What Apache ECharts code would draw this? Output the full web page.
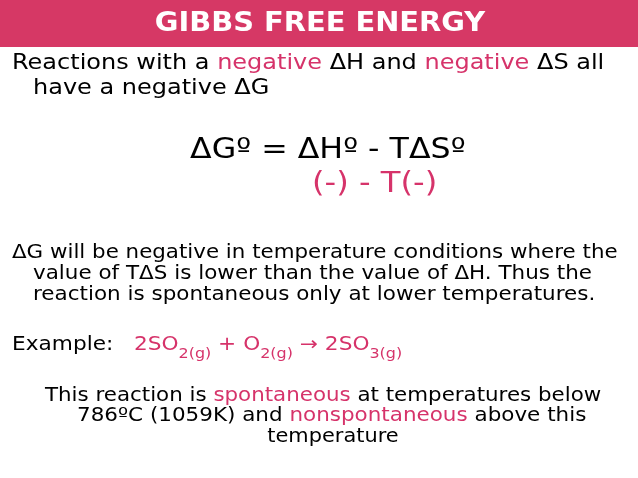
<!DOCTYPE html>
<html><head><meta charset="utf-8">
<script src="https://cdn.jsdelivr.net/npm/echarts@6/dist/echarts.min.js"></script>
<style>html,body{margin:0;padding:0;background:#fff}#c{width:638px;height:478px}</style>
</head><body><div id="c"></div>
<script>
var title = "GIBBS FREE ENERGY";
// segments: [text, style key]  k = black, p = pink, ps = pink subscript
var introLines = [
  [["Reactions with a ", "k"], ["negative", "p"], [" ΔH and ", "k"], ["negative", "p"], [" ΔS all", "k"]],
  [["have a negative ΔG", "k"]]
];
var equationLines = [
  [["ΔGº = ΔHº - TΔSº", "k"]],
  [["(-) - T(-)", "p"]]
];
var paragraphLines = [
  [["ΔG will be negative in temperature conditions where the", "k"]],
  [["value of TΔS is lower than the value of ΔH. Thus the", "k"]],
  [["reaction is spontaneous only at lower temperatures.", "k"]]
];
var exampleLines = [
  [["Example:   ", "k"], ["2SO", "p"], ["2(g)", "ps"], [" + O", "p"], ["2(g)", "ps"], [" → 2SO", "p"], ["3(g)", "ps"]]
];
var closingLines = [
  [["This reaction is ", "k"], ["spontaneous", "p"], [" at temperatures below", "k"]],
  [["786ºC (1059K) and ", "k"], ["nonspontaneous", "p"], [" above this", "k"]],
  [["temperature", "k"]]
];

var PINK = "#D6336A", BLACK = "#000000", FONT = "DejaVu Sans";
function esc(s){ return s.replace(/[{}|]/g, ""); }
function rich(fs){
  var lh = Math.round(fs*1.25);
  return {
    k: {fontSize: fs, fill: BLACK, fontFamily: FONT, verticalAlign: "bottom", lineHeight: lh},
    p: {fontSize: fs, fill: PINK, fontFamily: FONT, verticalAlign: "bottom", lineHeight: lh},
    ps: {fontSize: Math.round(fs*0.74), fill: PINK, fontFamily: FONT, verticalAlign: "bottom", lineHeight: lh, padding: [0,0,-Math.round(fs*0.32),0]}
  };
}
function textEl(segs, x, y, fs, sx, align){
  return {
    type: "text", x: x, y: y, scaleX: sx,
    style: {
      text: segs.map(function(s){ return "{" + s[1] + "|" + esc(s[0]) + "}"; }).join(""),
      rich: rich(fs), fontFamily: FONT, fontSize: fs,
      align: align || "left", verticalAlign: "middle"
    }
  };
}
var els = [];
els.push({type: "rect", shape: {x: 0, y: 0, width: 638, height: 47}, style: {fill: "#D63865"}});
els.push({type: "text", x: 320, y: 24, scaleX: 1.11, style: {text: title, fill: "#fff", font: "bold 26px 'DejaVu Sans'", align: "center", verticalAlign: "middle"}});
els.push(textEl(introLines[0], 12, 61, 20.5, 1.17));
els.push(textEl(introLines[1], 33, 86, 20.5, 1.17));
els.push(textEl(equationLines[0], 190, 147, 28, 1.13));
els.push(textEl(equationLines[1], 312, 181, 28, 1.15));
els.push(textEl(paragraphLines[0], 12, 251, 19, 1.125));
els.push(textEl(paragraphLines[1], 33, 272, 19, 1.13));
els.push(textEl(paragraphLines[2], 33, 293, 19, 1.13));
els.push(textEl(exampleLines[0], 12, 343, 19, 1.14));
els.push(textEl(closingLines[0], 45, 394, 19, 1.125));
els.push(textEl(closingLines[1], 77, 414, 19, 1.13));
els.push(textEl(closingLines[2], 333, 435, 19, 1.1, "center"));

var chart = echarts.init(document.getElementById("c"));
chart.setOption({graphic: {elements: els}});
</script></body></html>
